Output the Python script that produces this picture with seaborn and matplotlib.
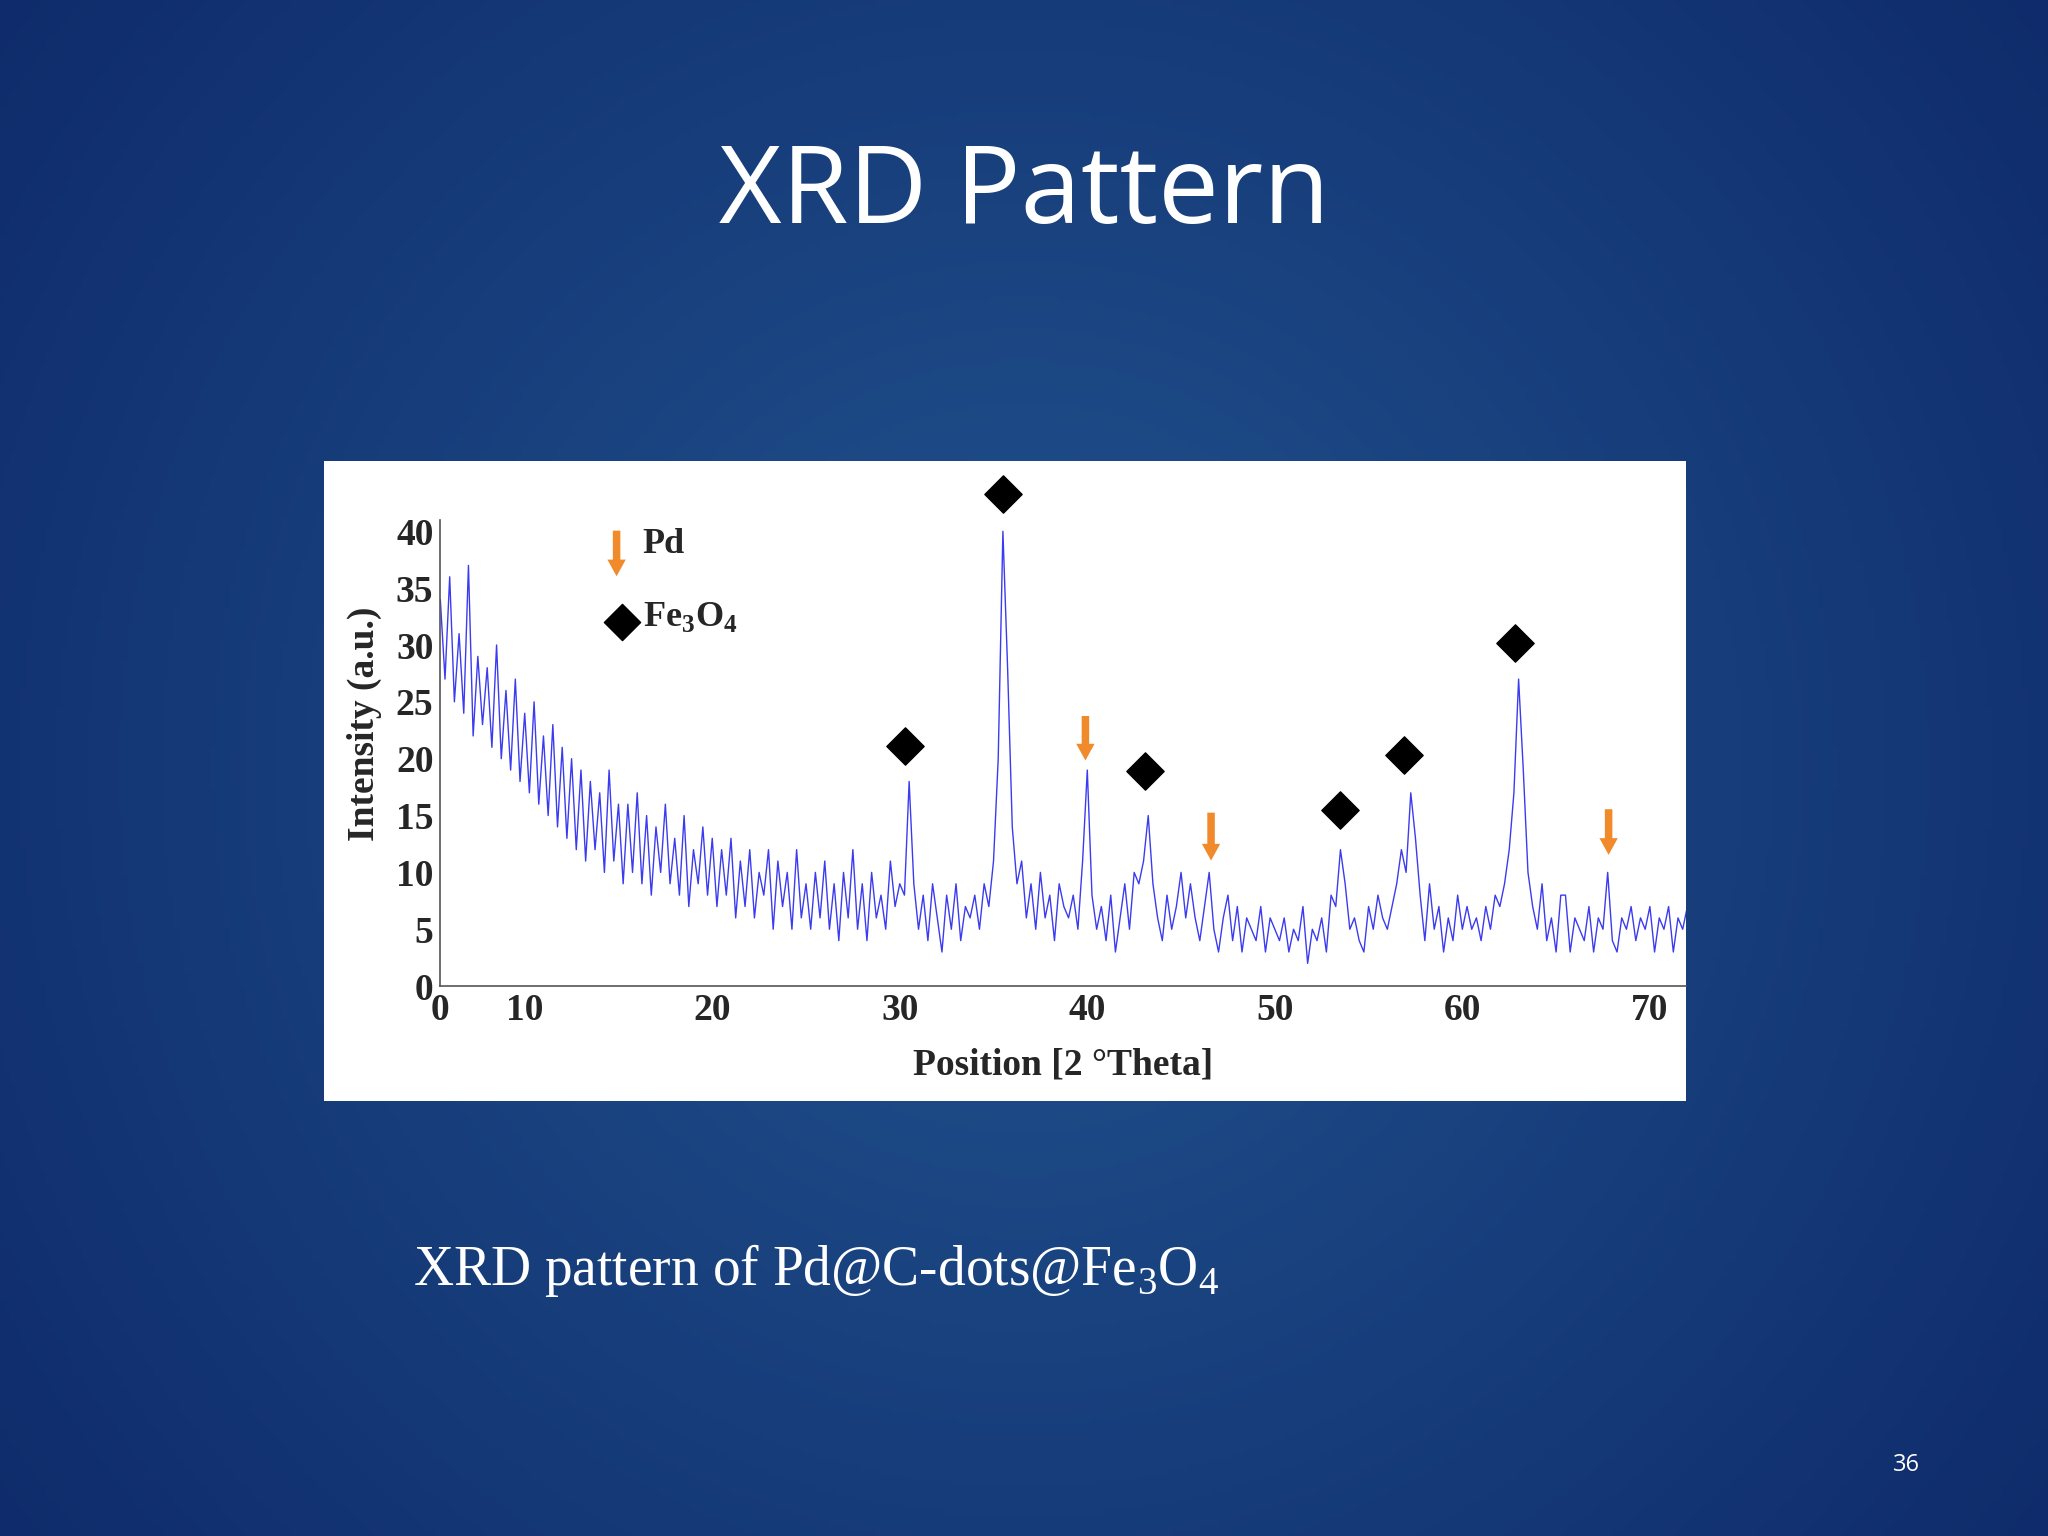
import numpy as np
import pandas as pd
import matplotlib.pyplot as plt
import seaborn as sns
from matplotlib.patches import Rectangle

# XRD pattern, 0.25 degree steps from 5.5 to 72
two_theta = np.arange(5.5, 72.01, 0.25)
intensity = [
    34, 27, 36, 25, 31, 24, 37, 22, 29, 23, 28, 21, 30, 20, 26, 19, 27, 18, 24, 17,
    25, 16, 22, 15, 23, 14, 21, 13, 20, 12, 19, 11, 18, 12, 17, 10, 19, 11, 16, 9,
    16, 10, 17, 9, 15, 8, 14, 10, 16, 9, 13, 8, 15, 7, 12, 9, 14, 8, 13, 7,
    12, 8, 13, 6, 11, 7, 12, 6, 10, 8, 12, 5, 11, 7, 10, 5, 12, 6, 9, 5,
    10, 6, 11, 5, 9, 4, 10, 6, 12, 5, 9, 4, 10, 6, 8, 5, 11, 7, 9, 8,
    18, 9, 5, 8, 4, 9, 6, 3, 8, 5, 9, 4, 7, 6, 8, 5, 9, 7, 11, 20,
    40, 28, 14, 9, 11, 6, 9, 5, 10, 6, 8, 4, 9, 7, 6, 8, 5, 11, 19, 8,
    5, 7, 4, 8, 3, 6, 9, 5, 10, 9, 11, 15, 9, 6, 4, 8, 5, 7, 10, 6,
    9, 6, 4, 7, 10, 5, 3, 6, 8, 4, 7, 3, 6, 5, 4, 7, 3, 6, 5, 4,
    6, 3, 5, 4, 7, 2, 5, 4, 6, 3, 8, 7, 12, 9, 5, 6, 4, 3, 7, 5,
    8, 6, 5, 7, 9, 12, 10, 17, 13, 8, 4, 9, 5, 7, 3, 6, 4, 8, 5, 7,
    5, 6, 4, 7, 5, 8, 7, 9, 12, 17, 27, 19, 10, 7, 5, 9, 4, 6, 3, 8,
    8, 3, 6, 5, 4, 7, 3, 6, 5, 10, 4, 3, 6, 5, 7, 4, 6, 5, 7, 3,
    6, 5, 7, 3, 6, 5, 7,
]
# Fe3O4 reflections (diamonds) and Pd reflections (arrows)
fe_pos = [30.3, 35.5, 43.1, 53.5, 56.9, 62.8]
fe_mark = [21.1, 43.3, 18.9, 15.5, 20.3, 30.2]
pd_pos = [39.9, 46.6, 67.8]
pd_top = [24.0, 15.5, 15.8]
pd_tip = [19.6, 10.8, 11.3]
tick_pos = [5.5, 10, 20, 30, 40, 50, 60, 70]
tick_lab = ['0', '10', '20', '30', '40', '50', '60', '70']

df = pd.DataFrame({'theta': two_theta, 'intensity': intensity})

sns.set_theme(style='white')
plt.rcParams['font.family'] = ['Liberation Serif', 'DejaVu Serif']
plt.rcParams['mathtext.fontset'] = 'custom'
plt.rcParams['mathtext.rm'] = 'Liberation Serif'
plt.rcParams['mathtext.bf'] = 'Liberation Serif:bold'

fig = plt.figure(figsize=(20.48, 15.36), dpi=100)

# slide background
bg = fig.add_axes([0, 0, 1, 1], zorder=-10)
yy, xx = np.mgrid[0:1:300j, 0:1:400j]
r = np.sqrt((xx - 0.5) ** 2 + ((yy - 0.5) * 0.75) ** 2)
c0 = np.array([0.13, 0.33, 0.56])
c1 = np.array([0.06, 0.17, 0.42])
t = np.clip(r / 0.62, 0, 1)[..., None]
bg.imshow(c0 * (1 - t) + c1 * t, aspect='auto', extent=[0, 1, 0, 1])
bg.axis('off')

fig.patches.append(Rectangle((0.158, 0.283), 0.665, 0.417, transform=fig.transFigure,
                             facecolor='white', edgecolor='none', zorder=-5))

fig.text(0.5, 0.873, 'XRD Pattern', color='white', fontsize=78, ha='center', va='center',
         family=['Open Sans', 'DejaVu Sans'])
fig.text(0.2015, 0.173, 'XRD pattern of Pd@C-dots@Fe$_\\mathrm{3}$O$_\\mathrm{4}$', color='white',
         fontsize=40, ha='left', va='center')
fig.text(0.931, 0.046, '36', color='white', fontsize=17, ha='center', va='center',
         family=['Open Sans', 'DejaVu Sans'])

ax = fig.add_axes([0.215, 0.358, 0.608, 0.342])
ax.set_facecolor('none')
sns.lineplot(data=df, x='theta', y='intensity', ax=ax, color='#3b3bf0', lw=1.0)

ax.scatter(fe_pos, fe_mark, marker='D', s=360, color='black', zorder=5)
arrow = 'simple,head_width=1.1,head_length=1.0,tail_width=0.45'
for x, y0, y1 in zip(pd_pos, pd_top, pd_tip):
    ax.annotate('', xy=(x, y1), xytext=(x, y0),
                arrowprops=dict(arrowstyle=arrow, color='#f08a2a', lw=0))

# legend
ax.annotate('', xy=(14.9, 35.8), xytext=(14.9, 40.3),
            arrowprops=dict(arrowstyle=arrow, color='#f08a2a', lw=0))
ax.text(16.3, 38.8, 'Pd', fontsize=26, fontweight='bold', va='center')
ax.scatter([15.2], [32.0], marker='D', s=340, color='black')
ax.text(16.3, 32.5, 'Fe$_\\mathbf{3}$O$_\\mathbf{4}$', fontsize=26, fontweight='bold', va='center')

ax.set_xlim(5.5, 71.9)
ax.set_ylim(0, 46.2)
ax.set_xticks(tick_pos)
ax.set_xticklabels(tick_lab)
ax.set_yticks(range(0, 41, 5))
for s in ['top', 'right']:
    ax.spines[s].set_visible(False)
for s in ['left', 'bottom']:
    ax.spines[s].set_color('#555555')
    ax.spines[s].set_linewidth(1.2)
ax.spines['left'].set_bounds(0, 41)
ax.tick_params(axis='both', direction='in', length=7, width=1.2, color='#555555',
               labelsize=27, pad=5)
for lab in ax.get_xticklabels() + ax.get_yticklabels():
    lab.set_fontweight('bold')
ax.set_xlabel('Position [2 °Theta]', fontsize=27, fontweight='bold', labelpad=14)
ax.set_ylabel('Intensity (a.u.)', fontsize=27, fontweight='bold', labelpad=10)

fig.savefig('out.png', dpi=100)
